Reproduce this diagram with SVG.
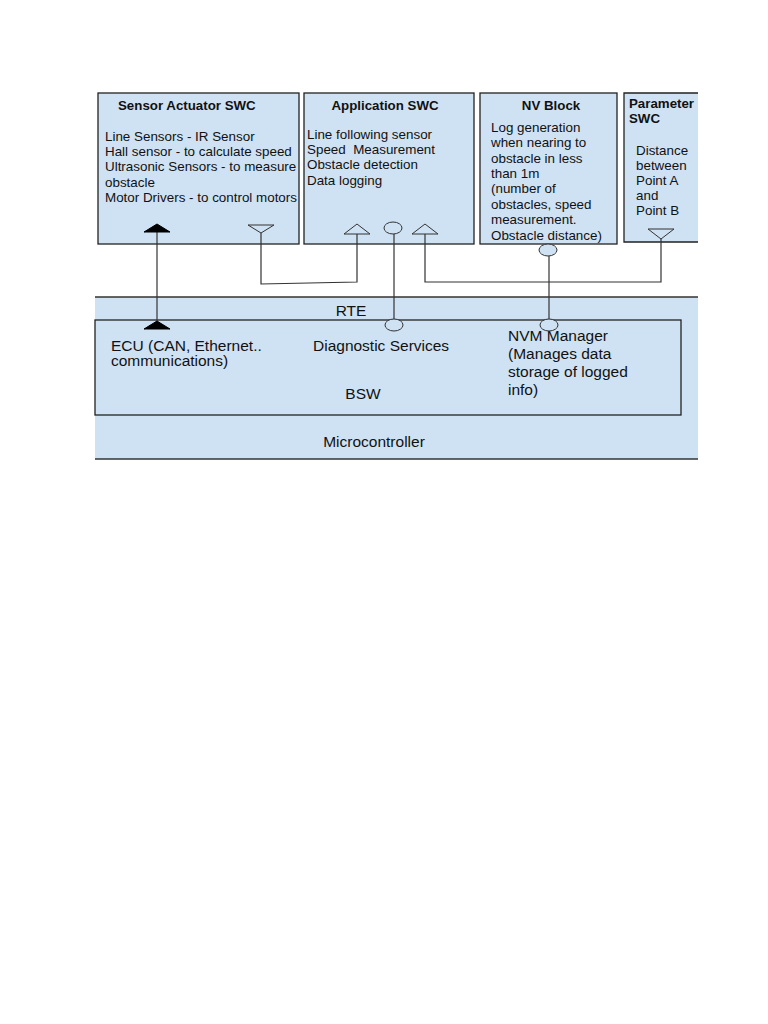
<svg xmlns="http://www.w3.org/2000/svg" width="768" height="1024" viewBox="0 0 768 1024">
<style>
.box{fill:#cfe2f3;stroke:#222;stroke-width:1.3}
.t{font-family:"Liberation Sans",Arial,sans-serif;font-size:13.4px;fill:#111}
.b{font-family:"Liberation Sans",Arial,sans-serif;font-size:13.3px;font-weight:bold;fill:#111}
.l{font-family:"Liberation Sans",Arial,sans-serif;font-size:15.5px;fill:#111}
.c{fill:none;stroke:#333;stroke-width:1.2}
.ot{fill:#cfe2f3;stroke:#333;stroke-width:1}
.ft{fill:#000;stroke:#000;stroke-width:1}
</style>
<rect width="768" height="1024" fill="#fff"/>
<g id="microcontroller">
<rect x="95" y="297" width="603" height="162" fill="#cfe2f3"/>
<line x1="95" y1="297" x2="698" y2="297" stroke="#333" stroke-width="1.3"/>
<line x1="95" y1="459" x2="698" y2="459" stroke="#333" stroke-width="1.3"/>
<text class="l" x="374" y="447" text-anchor="middle">Microcontroller</text>
</g>
<g id="rte">
<text class="l" x="351" y="316" text-anchor="middle">RTE</text>
</g>
<g id="bsw">
<rect class="box" x="95" y="320" width="586" height="95"/>
<text class="l" x="111" y="351">ECU (CAN, Ethernet..</text>
<text class="l" x="111" y="366">communications)</text>
<text class="l" x="313" y="351">Diagnostic Services</text>
<text class="l" x="508" y="341">NVM Manager</text>
<text class="l" x="508" y="359">(Manages data</text>
<text class="l" x="508" y="377">storage of logged</text>
<text class="l" x="508" y="395">info)</text>
<text class="l" x="363" y="399" text-anchor="middle">BSW</text>
</g>
<g id="sensor-actuator-swc">
<rect class="box" x="98" y="93" width="201" height="151"/>
<text class="b" x="118" y="110">Sensor Actuator SWC</text>
<text class="t" x="105" y="141">Line Sensors - IR Sensor</text>
<text class="t" x="105" y="156">Hall sensor - to calculate speed</text>
<text class="t" x="105" y="171">Ultrasonic Sensors - to measure</text>
<text class="t" x="105" y="187">obstacle</text>
<text class="t" x="105" y="202">Motor Drivers - to control motors</text>
</g>
<g id="application-swc">
<rect class="box" x="304" y="93" width="170" height="151"/>
<text class="b" x="385" y="110" text-anchor="middle">Application SWC</text>
<text class="t" x="307" y="139">Line following sensor</text>
<text class="t" x="307" y="154" xml:space="preserve">Speed  Measurement</text>
<text class="t" x="307" y="169">Obstacle detection</text>
<text class="t" x="307" y="185">Data logging</text>
</g>
<g id="nv-block">
<rect class="box" x="480" y="93" width="137" height="151"/>
<text class="b" x="551" y="110" text-anchor="middle">NV Block</text>
<text class="t" x="491" y="132">Log generation</text>
<text class="t" x="491" y="147">when nearing to</text>
<text class="t" x="491" y="163">obstacle in less</text>
<text class="t" x="491" y="178">than 1m</text>
<text class="t" x="491" y="193">(number of</text>
<text class="t" x="491" y="209">obstacles, speed</text>
<text class="t" x="491" y="224">measurement.</text>
<text class="t" x="491" y="240">Obstacle distance)</text>
</g>
<g id="parameter-swc">
<rect x="624" y="93" width="74" height="149" fill="#cfe2f3"/>
<polyline points="698,93 624,93 624,242 698,242" fill="none" stroke="#222" stroke-width="1.3"/>
<text class="b" x="629" y="108">Parameter</text>
<text class="b" x="629" y="123">SWC</text>
<text class="t" x="636" y="155">Distance</text>
<text class="t" x="636" y="170">between</text>
<text class="t" x="636" y="185">Point A</text>
<text class="t" x="636" y="200">and</text>
<text class="t" x="636" y="215">Point B</text>
</g>
<g id="connectors">
<line class="c" x1="157" y1="232" x2="157" y2="321" stroke="#000"/>
<polygon class="ft" points="144,232 170,232 157,224"/>
<polygon class="ft" points="144,329 170,329 157,321"/>
<polyline class="c" points="261,233 261,284 357,282 357,234"/>
<polygon class="ot" points="248,225 274,225 261,233"/>
<polygon class="ot" points="344,234 370,234 357,224"/>
<line class="c" x1="394" y1="234" x2="394" y2="319"/>
<ellipse class="ot" cx="393" cy="228" rx="9" ry="6"/>
<ellipse class="ot" cx="394" cy="325" rx="9" ry="6"/>
<polyline class="c" points="425,234 425,282 661,282 661,239"/>
<polygon class="ot" points="412,234 438,234 425,224"/>
<polygon class="ot" points="648,229 674,229 661,239"/>
<line class="c" x1="549" y1="256" x2="549" y2="319"/>
<ellipse class="ot" cx="548" cy="250" rx="9" ry="6"/>
<ellipse class="ot" cx="549" cy="325" rx="9" ry="6"/>
</g>
</svg>
